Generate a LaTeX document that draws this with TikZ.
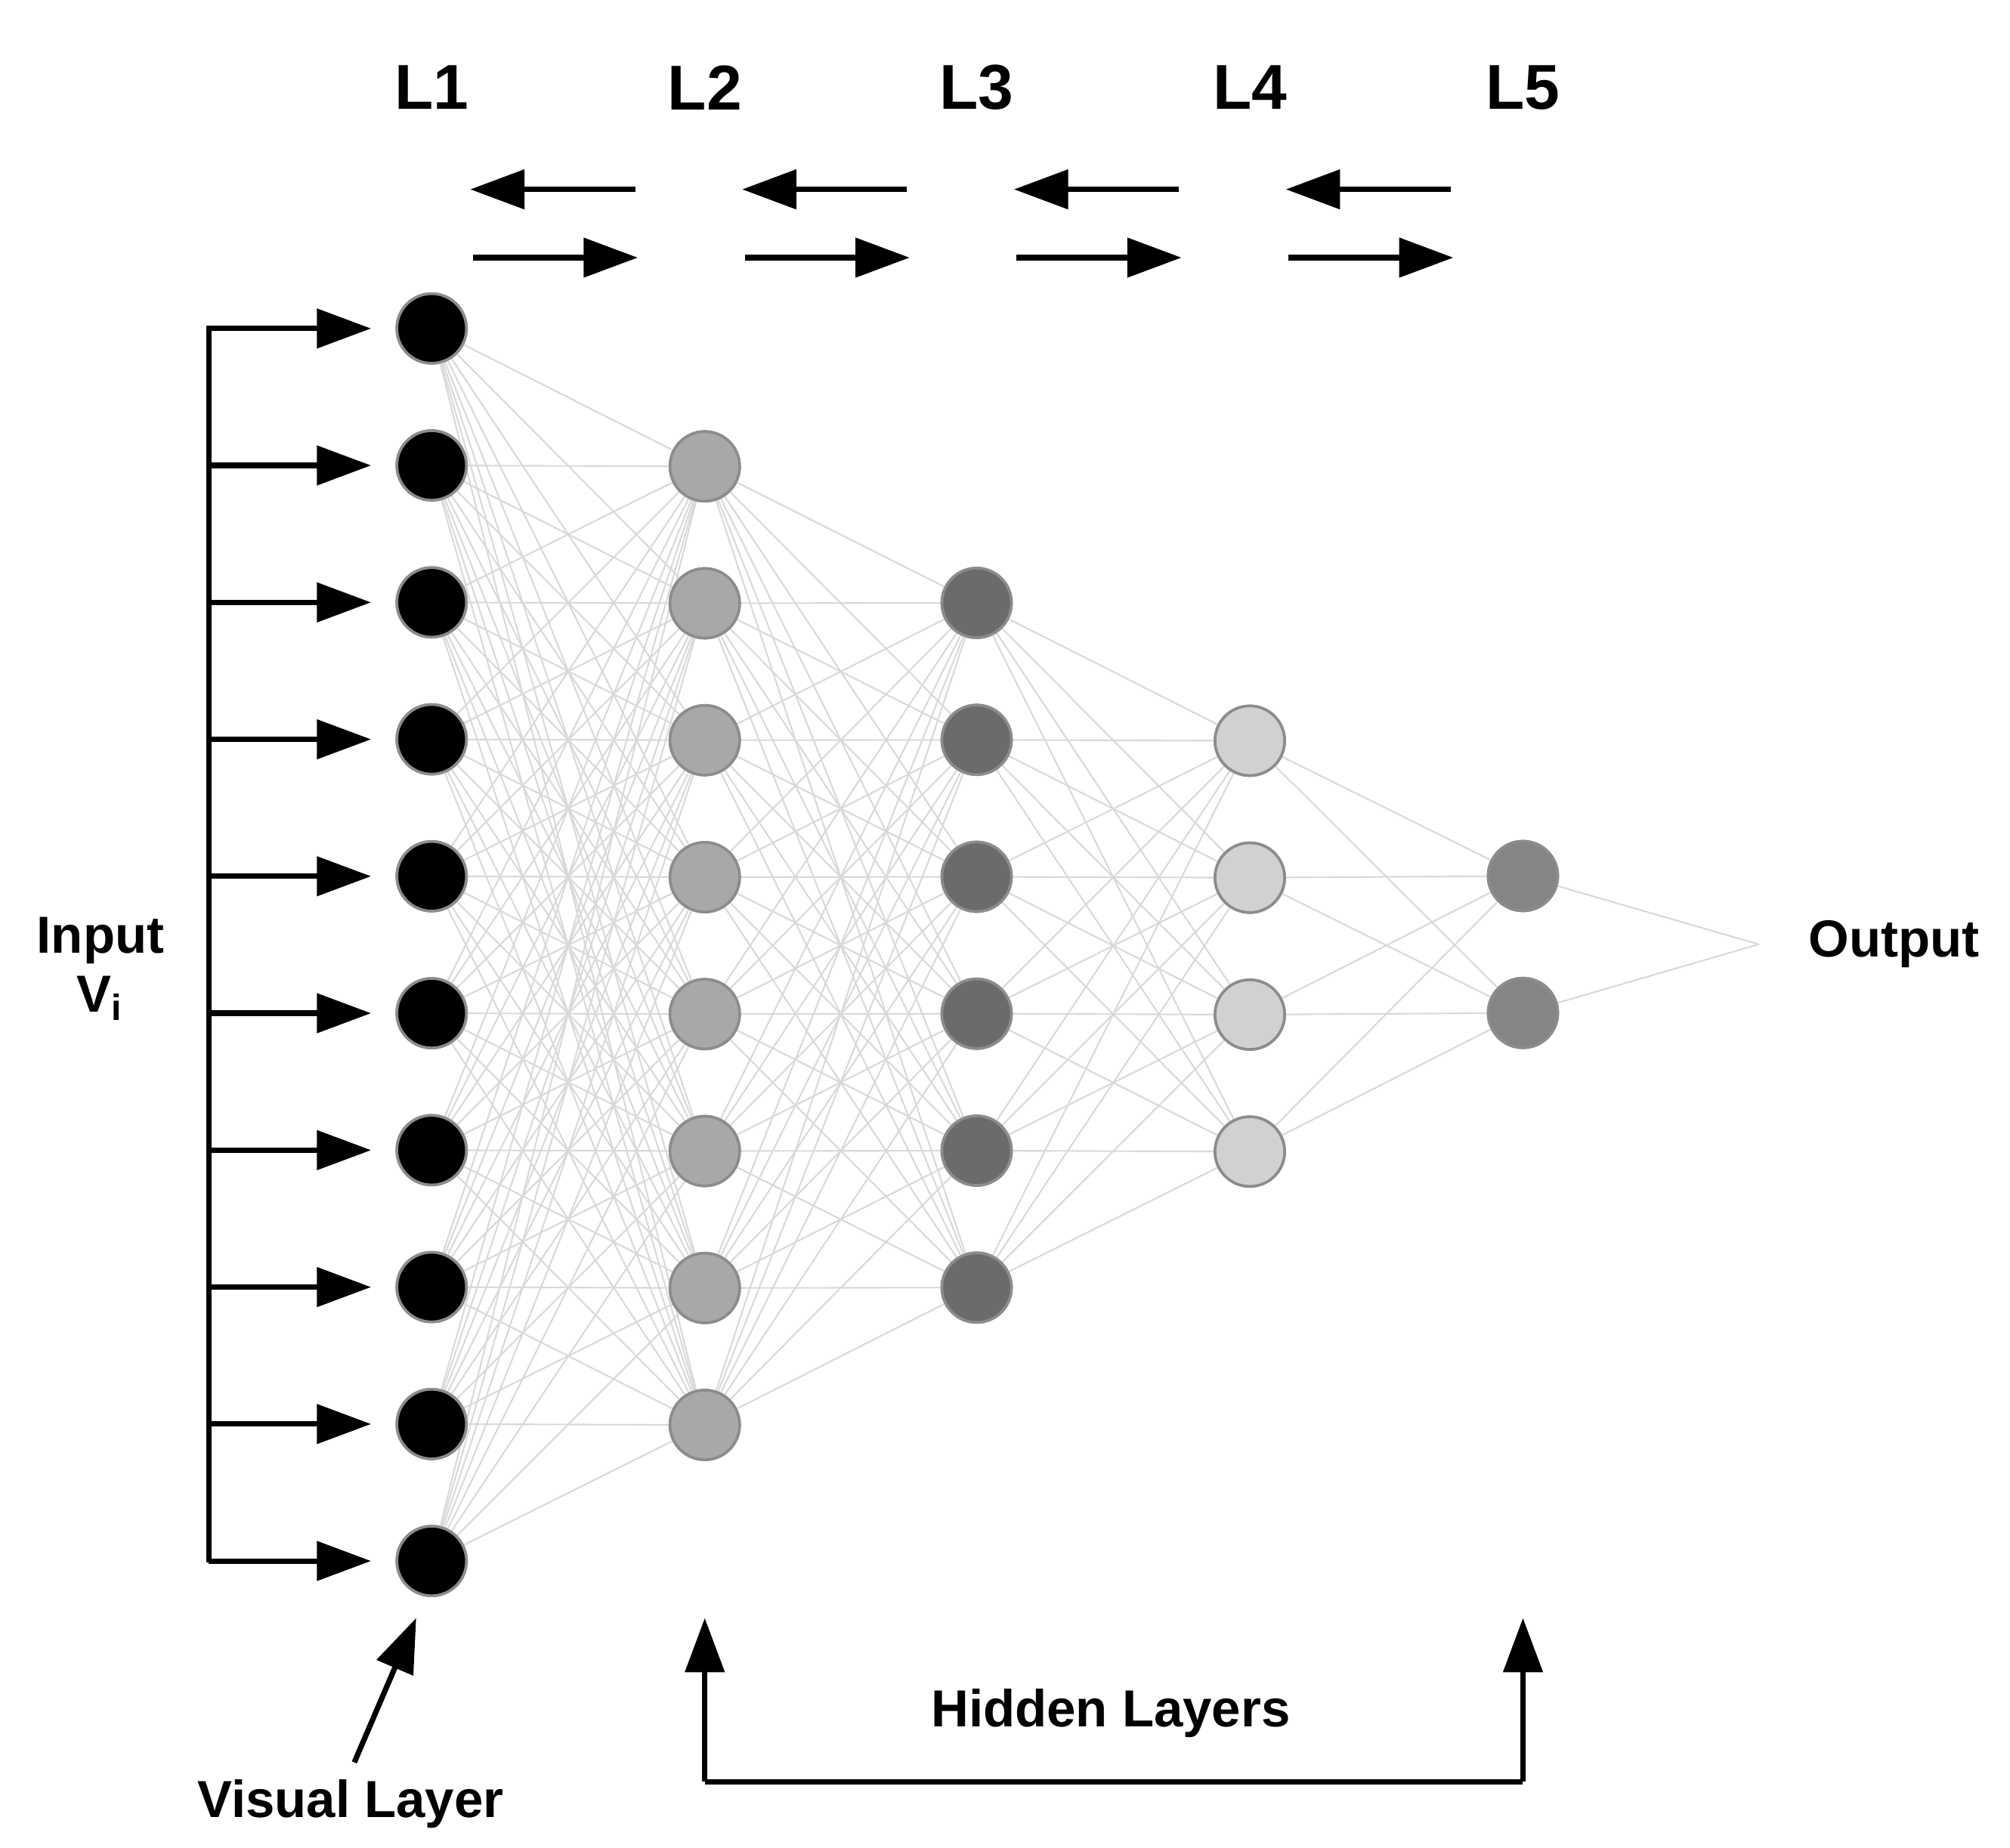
\documentclass[tikz,border=0pt]{standalone}
\usepackage{fontspec}
\setmainfont{Liberation Sans}
\usetikzlibrary{arrows.meta}
\begin{document}
\begin{tikzpicture}[x=0.01cm,y=-0.01cm,
  neuron/.style={circle,minimum size=0.54cm,inner sep=0pt,draw=#1,line width=0.6pt},
  edge/.style={draw=black!15,line width=0.35pt},
  big/.style={arrows={-Triangle[length=0.42cm,width=0.3cm]},line width=1.2pt},
  lab/.style={font=\bfseries\fontsize{14}{16}\selectfont},
  sm/.style={font=\bfseries\fontsize{11.5}{13}\selectfont}]
\useasboundingbox (0,0) rectangle (1560,1434);
\definecolor{cA}{gray}{0}\definecolor{cB}{gray}{0.66}\definecolor{cC}{gray}{0.42}
\definecolor{cD}{gray}{0.82}\definecolor{cE}{gray}{0.52}
% layer definitions: index/x/count/first y/colour
\def\sp{106.3}
\foreach \l/\x/\n/\y/\c in {1/335/10/255/cA,2/547/8/362/cB,3/758/6/468/cC,4/970/4/575/cD,5/1182/2/680/cE}{
  \foreach \i in {1,...,\n}{
    \node[neuron=black!45,fill=\c] (n\l-\i) at (\x,{\y+(\i-1)*\sp}) {};
  }
}
\coordinate (out) at (1365,733);
\begin{scope}[on background layer/.try]
\end{scope}
% edges
\foreach \a/\na/\b/\nb in {1/10/2/8,2/8/3/6,3/6/4/4,4/4/5/2}{
  \foreach \i in {1,...,\na}{\foreach \j in {1,...,\nb}{
    \draw[edge] (n\a-\i) -- (n\b-\j);}}}
\foreach \j in {1,2}{\draw[edge] (n5-\j) -- (out);}
% redraw nodes on top
\foreach \l/\x/\n/\y/\c in {1/335/10/255/cA,2/547/8/362/cB,3/758/6/468/cC,4/970/4/575/cD,5/1182/2/680/cE}{
  \foreach \i in {1,...,\n}{
    \node[neuron=black!45,fill=\c] at (n\l-\i) {};
  }
}
% layer labels
\foreach \l/\x in {1/335,2/547,3/758,4/970,5/1182}{\node[lab] (L\l) at (\x,68) {L\l};}
% top arrows
\foreach \k in {0,1,2,3}{
  \coordinate (la\k) at ({493+211*\k},147); \coordinate (lb\k) at ({365+211*\k},147);
  \coordinate (ra\k) at ({367+211*\k},200); \coordinate (rb\k) at ({495+211*\k},200);
  \draw[big] (la\k) -- (lb\k);
  \draw[big] (ra\k) -- (rb\k);
}
% input bus
\coordinate (bt) at (162,253); \coordinate (bb) at (162,1213);
\draw[line width=1.2pt] (bt) -- (bb);
\foreach \i in {1,...,10}{
  \coordinate (s\i) at (162,{255+(\i-1)*\sp});
  \coordinate (e\i) at (288,{255+(\i-1)*\sp});
  \draw[big] (s\i) -- (e\i);}
\node[sm,align=center] (inp) at (78,752) {Input\\V\textsubscript{i}};
\node[sm] (outl) at (1470,733) {Output};
% visual layer
\node[sm] (vis) at (272,1400) {Visual Layer};
\coordinate (v0) at (275,1368); \coordinate (v1) at (323,1256);
\draw[big] (v0) -- (v1);
% hidden layers
\coordinate (h1) at (547,1383); \coordinate (h2) at (1182,1383);
\coordinate (h1t) at (547,1256); \coordinate (h2t) at (1182,1256);
\draw[big] (h1) -- (h1t);
\draw[big] (h2) -- (h2t);
\draw[line width=1.2pt] (h1) -- (h2);
\node[sm] (hid) at (862,1330) {Hidden Layers};
\end{tikzpicture}
\end{document}
